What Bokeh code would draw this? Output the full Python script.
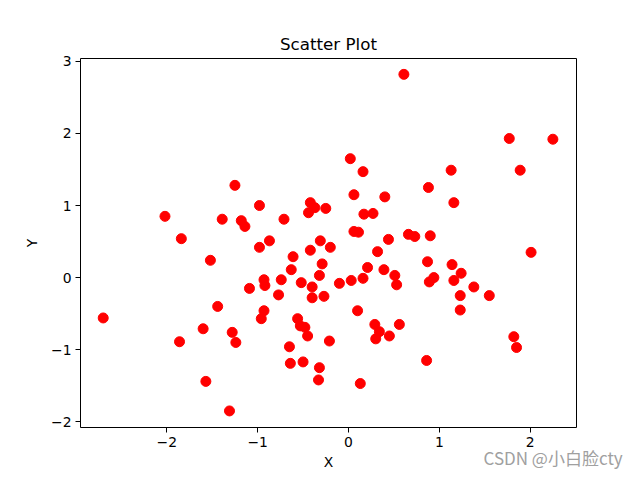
from bokeh.plotting import figure
from bokeh.models import Range1d, FixedTicker, Title, ColumnDataSource
from bokeh.embed import file_html
from bokeh.resources import INLINE

# Data
x_values = [-2.70, -2.02, -1.84, -1.86, -1.52, -1.60, -1.57, -1.44, -1.39, -1.25,
            -1.18, -1.14, -1.28, -1.24, -1.31, -0.98, -0.98, -0.87, -1.09, -0.93,
            -0.92, -0.93, -0.96, -0.77, -0.71, -0.74, -0.42, -0.37, -0.25, -0.44,
            0.02, 0.16, 0.06, 0.40, 0.17, 0.27, 0.06, 0.11, -0.31, 0.44,
            -0.20, -0.42, 0.32, -0.61, -0.29, 0.21, -0.63, 0.39, -0.32, 0.51,
            -0.52, -0.40, -0.10, 0.03, 0.16, 0.53, -0.40, -0.27, 0.10, -0.56,
            -0.53, -0.48, -0.45, -0.21, -0.65, -0.64, -0.50, -0.32, -0.33, 0.13,
            0.29, 0.34, 0.56, 0.45, 0.30, 0.61, 0.66, 0.73, 0.88, 0.90,
            0.87, 0.94, 0.89, 0.86, 1.13, 1.16, 1.14, 1.24, 1.16, 1.38,
            1.23, 1.55, 1.23, 1.77, 2.25, 1.89, 2.01, 1.82, 1.85]
y_values = [-0.56, 0.85, 0.54, -0.89, 0.24, -0.71, -1.44, -0.40, 0.81, 1.28,
            0.79, 0.71, -0.76, -0.90, -1.85, 1.00, 0.42, 0.51, -0.15, -0.03,
            -0.11, -0.46, -0.57, -0.24, 0.81, -0.03, 1.04, 0.97, 0.96, 0.90,
            1.65, 1.47, 1.15, 1.12, 0.88, 0.89, 0.64, 0.63, 0.51, 0.53,
            0.42, 0.38, 0.36, 0.29, 0.19, 0.14, 0.11, 0.11, 0.03, 0.03,
            -0.07, -0.13, -0.08, -0.04, -0.01, -0.10, -0.28, -0.26, -0.46, -0.57,
            -0.67, -0.69, -0.81, -0.88, -0.96, -1.19, -1.17, -1.25, -1.42, -1.47,
            -0.65, -0.75, -0.65, -0.81, -0.85, 2.82, 0.60, 0.57, 1.25, 0.58,
            0.22, 0.00, -0.06, -1.15, 1.49, 1.04, 0.18, 0.06, -0.04, -0.13,
            -0.25, -0.25, -0.45, 1.93, 1.92, 1.49, 0.35, -0.82, -0.97]

x_ticks = [-2, -1, 0, 1, 2]
x_tick_labels = ["\u22122", "\u22121", "0", "1", "2"]
y_ticks = [-2, -1, 0, 1, 2, 3]
y_tick_labels = ["\u22122", "\u22121", "0", "1", "2", "3"]

title_text = "Scatter Plot"
x_label = "X"
y_label = "Y"
watermark = "CSDN @小白脸cty"

FONT = "DejaVu Sans"

p = figure(width=640, height=480, output_backend="svg", toolbar_location=None,
           x_range=Range1d(-2.95, 2.51), y_range=Range1d(-2.08, 3.04),
           frame_width=496, frame_height=369,
           min_border_left=80, min_border_right=64,
           min_border_top=58, min_border_bottom=53)

p.background_fill_color = "white"
p.border_fill_color = "white"
p.grid.visible = False
p.outline_line_color = "black"
p.outline_line_width = 1

p.title.text = title_text
p.title.align = "center"
p.title.text_font = FONT
p.title.text_font_size = "16.7px"
p.title.text_font_style = "normal"
p.title.text_color = "black"

src = ColumnDataSource(dict(x=x_values, y=y_values))
p.scatter("x", "y", source=src, size=10, fill_color="red", line_color="red")

p.xaxis.ticker = FixedTicker(ticks=x_ticks)
p.yaxis.ticker = FixedTicker(ticks=y_ticks)
p.xaxis.major_label_overrides = {t: s for t, s in zip(x_ticks, x_tick_labels)}
p.yaxis.major_label_overrides = {t: s for t, s in zip(y_ticks, y_tick_labels)}

for ax in (p.xaxis, p.yaxis):
    ax.axis_line_color = None
    ax.minor_tick_line_color = None
    ax.major_tick_in = 0
    ax.major_tick_out = 5
    ax.major_tick_line_color = "black"
    ax.major_label_text_font = FONT
    ax.major_label_text_font_size = "13.9px"
    ax.major_label_text_color = "black"
    ax.major_label_standoff = 4
    ax.axis_label_text_font = FONT
    ax.axis_label_text_font_size = "13.9px"
    ax.axis_label_text_font_style = "normal"
    ax.axis_label_text_color = "black"

p.yaxis.axis_label = y_label
p.yaxis.axis_label_standoff = 8

# x-axis label and watermark share one line below the tick labels
xlab = Title(text=x_label, align="center", standoff=-40,
             text_font=FONT, text_font_size="13.9px",
             text_font_style="normal", text_color="black")
p.add_layout(xlab, "below")

wm = Title(text=watermark, align="left", offset=403, standoff=-40,
           text_font="Noto Sans CJK SC", text_font_size="17px",
           text_font_style="normal", text_color="#a0a0a0")
p.add_layout(wm, "below")

open("out.html", "w").write(file_html(p, INLINE))
